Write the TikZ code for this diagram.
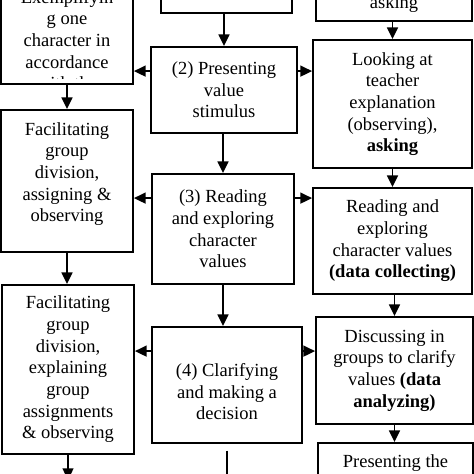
\documentclass[tikz,border=0pt]{standalone}
\usepackage{fontspec}
\setmainfont{Liberation Serif}
\usetikzlibrary{arrows.meta}

\begin{document}
\begin{tikzpicture}[x=0.6pt, y=-0.6pt, >={Triangle[length=7pt,width=6.5pt]},
  boxtext/.style={align=center, inner sep=0pt, font=\fontsize{11.1}{13}\selectfont},
  box/.style={boxtext, draw, line width=1.1pt},
  flow/.style={->, line width=1.1pt}]
\useasboundingbox (0,0) rectangle (474,474);
\clip (0,0) rectangle (474,474);
% left column
\node[box, minimum width=79.2pt, minimum height=52.8pt] (L1) at (67,40) {};
\begin{scope}
\clip (L1.north west) rectangle ([yshift=3.7pt]L1.south east);
\node[boxtext] (L1txt) at (L1.center) {Exemplifyin\\g one\\character in\\accordance\\with the};
\end{scope}
\node[box, minimum width=79.2pt, minimum height=85.2pt] (L2) at (67,181)
  {Facilitating\\group\\division,\\assigning \&\\observing\rule[-10.8pt]{0pt}{10.8pt}};
\node[box, minimum width=79.2pt, minimum height=101.4pt] (L3) at (68,369.5)
  {Facilitating\\group\\division,\\explaining\\group\\assignments\\\& observing};
\coordinate (Lout) at (68,480);
% middle column
\node[box, minimum width=78.6pt, minimum height=31.8pt] (M0) at (226.5,-13.5) {};
\node[box, minimum width=87.6pt, minimum height=51.6pt] (M1) at (224,90)
  {(2) Presenting\\value\\stimulus};
\node[box, minimum width=85.2pt, minimum height=66pt] (M2) at (223,229)
  {(3) Reading\\and exploring\\character\\values};
\node[box, minimum width=90pt, minimum height=69.6pt] (M3) at (227,385)
  {\rule{0pt}{16pt}(4) Clarifying\\and making a\\decision};
\coordinate (Mout) at (227,490);
% right column
\node[box, minimum width=93.6pt, minimum height=19.8pt] (R0) at (394,4.5) {asking};
\node[box, minimum width=95.4pt, minimum height=76.8pt] (R1) at (392.5,104)
  {Looking at\\teacher\\explanation\\(observing),\\\textbf{asking}};
\node[box, minimum width=95.4pt, minimum height=63.6pt] (R2) at (392.5,241)
  {Reading and\\exploring\\character values\\\textbf{(data collecting)}};
\node[box, minimum width=94.2pt, minimum height=64.2pt] (R3) at (394.5,370.5)
  {Discussing in\\groups to clarify\\values \textbf{(data}\\\textbf{analyzing)}};
\node[box, minimum width=93pt, minimum height=24pt] (R4) at (395.5,463) {Presenting the};

\draw[flow] (L1.south) -- (L2.north);
\draw[flow] (L2.south) -- (L2.south |- L3.north);
\draw[flow] (L3.south) -- (Lout);

\draw[flow] (M0.south -| M1.north) -- (M1.north);
\draw[flow] (M1.south -| M2.north) -- (M2.north);
\draw[flow] (M2.south) -- (M2.south |- M3.north);
\draw[line width=1.1pt] ([yshift=-4pt]M3.south) -- (Mout);

\draw[flow] (R0.south -| R1.north) -- (R1.north);
\draw[flow] (R1.south) -- (R1.south |- R2.north);
\draw[flow] (R2.south -| R3.north) -- (R3.north);
\draw[flow] (R3.south) -- (R3.south |- R4.north);

\path ([yshift=-15pt]M1.north west) coordinate (m1w) ([yshift=-15pt]M1.north east) coordinate (m1e);
\path ([yshift=-15pt]M2.north west) coordinate (m2w) ([yshift=-15pt]M2.north east) coordinate (m2e);
\path ([yshift=-15pt]M3.north west) coordinate (m3w) ([yshift=-15pt]M3.north east) coordinate (m3e);
\draw[flow] (m1w) -- (m1w -| L1.east);
\draw[flow] (m1e) -- (m1e -| R1.west);
\draw[flow] (m2w) -- (m2w -| L2.east);
\draw[flow] (m2e) -- (m2e -| R2.west);
\draw[flow] (m3w) -- (m3w -| L3.east);
\draw[flow] (m3e) -- (m3e -| R3.west);
\end{tikzpicture}
\end{document}
